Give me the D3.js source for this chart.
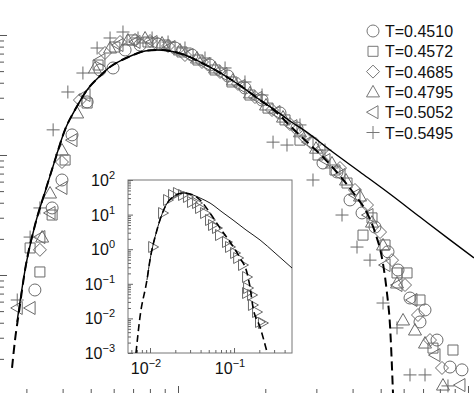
<!DOCTYPE html>
<html>
<head>
<meta charset="utf-8">
<script src="https://cdn.jsdelivr.net/npm/d3@7"></script>
<style>
  body { margin: 0; background: #fff; }
  svg { display: block; font-family: "Liberation Sans", Arial, Helvetica, sans-serif; }
</style>
</head>
<body>
<svg id="chart" width="474" height="393"></svg>
<script>
// legend labels and marker shapes, one per temperature
var temps = ["T=0.4510", "T=0.4572", "T=0.4685", "T=0.4795", "T=0.5052", "T=0.5495"];
var shapes = ["circle", "square", "diamond", "triUp", "triLeft", "plus"];

// main panel data, [x, P(x)] pairs
var circlePts = [[0.321,0.00750],[0.368,0.0362],[0.398,0.0619],[0.431,0.147],[0.486,0.277],[0.538,0.511],[0.597,0.531],
  [0.657,0.750],[0.740,0.825],[0.853,0.841],[0.977,0.779],[1.117,0.681],[1.289,0.562],[1.487,0.455],[1.702,0.362],
  [1.949,0.287],[2.248,0.224],[2.572,0.168],[2.921,0.126],[3.162,0.0858],[3.534,0.0722],[3.919,0.0422],[4.311,0.0329],
  [4.778,0.0251],[5.300,0.0156],[5.738,0.0110],[6.310,0.00643],[6.832,0.00406],[7.109,0.00511],[7.819,0.00287],
  [8.668,0.00171],[9.535,0.00162]];
var squarePts = [[0.309,0.0168],[0.334,0.0106],[0.368,0.0316],[0.408,0.0908],[0.486,0.271],[0.530,0.562],[0.606,0.794],
  [0.694,0.909],[0.788,0.874],[0.902,0.825],[1.032,0.722],[1.172,0.619],[1.342,0.511],[1.535,0.406],[1.771,0.316],
  [2.044,0.246],[2.339,0.196],[2.634,0.133],[3.040,0.100],[3.478,0.0750],[3.827,0.0584],[4.345,0.0215],[4.667,0.0299],
  [5.176,0.0178],[5.693,0.0104],[6.163,0.0104],[6.832,0.00619],[7.575,0.00246],[8.877,0.00237]];
var diamondPts = [[0.334,0.0162],[0.398,0.0874],[0.459,0.287],[0.560,0.708],[0.631,0.874],[0.711,0.909],[0.801,0.891],
  [0.924,0.810],[1.057,0.681],[1.210,0.596],[1.396,0.492],[1.610,0.391],[1.843,0.304],[2.110,0.237],[2.433,0.181],
  [2.742,0.139],[3.138,0.110],[3.620,0.0779],[4.077,0.0511],[4.485,0.0383],[4.974,0.0228],[5.471,0.0133],
  [6.066,0.00825],[6.724,0.00464],[7.396,0.00287],[8.136,0.00168]];
var triUpPts = [[0.340,0.0207],[0.362,0.0482],[0.398,0.110],[0.449,0.224],[0.517,0.531],[0.583,0.779],[0.672,0.909],
  [0.770,0.944],[0.881,0.858],[1.016,0.750],[1.163,0.643],[1.342,0.531],[1.547,0.422],[1.771,0.329],[2.012,0.261],
  [2.302,0.207],[2.634,0.156],[2.992,0.114],[3.396,0.0858],[3.796,0.0619],[4.243,0.0455],[4.667,0.0276],[5.094,0.0178],
  [5.693,0.00858],[5.971,0.00422],[6.566,0.00348],[7.109,0.00271],[8.200,0.00121]];
var triLeftPts = [[0.279,0.00531],[0.309,0.00531],[0.334,0.0207],[0.362,0.0329],[0.398,0.0531],[0.431,0.133],[0.478,0.316],
  [0.538,0.619],[0.621,0.825],[0.711,0.874],[0.814,0.874],[0.939,0.794],[1.083,0.681],[1.239,0.573],[1.418,0.473],
  [1.636,0.376],[1.872,0.299],[2.160,0.228],[2.472,0.174],[2.808,0.128],[3.213,0.0908],[3.620,0.0681],[4.077,0.0464],
  [4.521,0.0316],[5.176,0.0121],[5.693,0.00825],[6.411,0.00619],[7.696,0.00215],[9.384,0.00121]];
var plusPts = [[0.279,0.00619],[0.309,0.0207],[0.334,0.0362],[0.371,0.162],[0.417,0.335],[0.470,0.482],[0.526,0.779],
  [0.583,0.944],[0.646,1.059],[0.728,0.944],[0.814,0.944],[0.924,0.874],[1.057,0.779],[1.239,0.643],[1.453,0.531],
  [1.702,0.406],[1.949,0.316],[2.127,0.128],[2.376,0.121],[2.634,0.178],[2.921,0.0619],[3.213,0.110],[3.678,0.0316],
  [4.143,0.0171],[4.593,0.0133],[5.094,0.00584],[5.693,0.00362],[6.310,0.00147],[7.109,0.00147],[8.532,0.00119]];
var seriesPts = [circlePts, squarePts, diamondPts, triUpPts, triLeftPts, plusPts];

// main panel curves
var mainSolid = [[0.2785,0.00406],[0.2968,0.0110],[0.3213,0.0261],[0.3478,0.0492],[0.3766,0.0909],[0.4076,0.162],
  [0.4448,0.246],[0.4856,0.348],[0.5383,0.456],[0.5826,0.541],[0.6409,0.619],[0.6996,0.681],[0.7696,0.736],[0.8465,0.750],
  [0.9385,0.736],[1.057,0.681],[1.191,0.596],[1.342,0.511],[1.512,0.430],[1.702,0.355],[1.918,0.287],[2.160,0.237],
  [2.433,0.192],[2.742,0.159],[3.343,0.110],[4.243,0.0722],[5.383,0.0473],[6.832,0.0304],[8.668,0.0196],[10.49,0.0139]];
var mainDashed = [[0.2677,0.00168],[0.2741,0.00287],[0.2829,0.00492],[0.2968,0.0110],[0.3213,0.0261],[0.3478,0.0492],
  [0.3766,0.0909],[0.4076,0.162],[0.4448,0.246],[0.4856,0.348],[0.5383,0.456],[0.5826,0.541],[0.6409,0.619],[0.6996,0.681],
  [0.7696,0.736],[0.8465,0.750],[0.9385,0.736],[1.057,0.681],[1.191,0.596],[1.342,0.511],[1.512,0.430],[1.702,0.355],
  [1.918,0.287],[2.160,0.233],[2.433,0.175],[2.742,0.133],[3.162,0.0962],[3.620,0.0668],[4.077,0.0464],[4.485,0.0329],
  [4.817,0.0215],[5.051,0.0139],[5.256,0.00708],[5.383,0.00383],[5.513,0.00104]];

// inset data
var insetPts = [[0.0109,1.16],[0.0143,11.1],[0.0164,26.4],[0.0188,36.9],[0.0215,42.1],[0.0247,36.9],[0.0283,32.3],
  [0.0316,23.1],[0.0363,21.6],[0.0394,15.5],[0.0452,11.1],[0.0518,6.98],[0.0562,5.00],[0.0627,4.10],[0.0681,2.57],
  [0.0825,1.61],[0.0896,1.16],[0.103,0.777],[0.112,0.557],[0.128,0.350],[0.143,0.157],[0.147,0.0756],[0.143,0.0542],
  [0.164,0.0475],[0.168,0.0244],[0.188,0.0153],[0.204,0.00787],[0.221,0.00736]];
var insetDashed = [[0.00681,0.001],[0.0076,0.011],[0.0092,0.129],[0.0100,0.488],[0.0121,3.59],[0.0151,16.6],[0.0188,32.3],
  [0.0247,42.1],[0.0325,36.9],[0.0394,26.4],[0.0518,11.1],[0.0681,4.10],[0.0896,1.61],[0.118,0.557],[0.143,0.205],
  [0.155,0.0808],[0.168,0.0214],[0.204,0.00564],[0.247,0.00107]];
var insetSolid = [[0.0092,0.129],[0.0100,0.488],[0.0121,3.59],[0.0151,16.6],[0.0188,32.3],[0.0247,42.1],[0.0325,36.9],
  [0.0394,30.2],[0.0518,21.6],[0.0720,11.9],[0.0973,6.98],[0.139,3.59],[0.204,1.85],[0.308,0.777],[0.490,0.286]];
var insetYLabels = [["2", 100], ["1", 10], ["0", 1], ["\u22121", 0.1], ["\u22122", 0.01], ["\u22123", 0.001]];
var insetXLabels = [["\u22122", 0.01], ["\u22121", 0.1]];

var width = 474, height = 393;
var svg = d3.select("#chart");

var x = d3.scaleLog().domain([0.2433, 10.49]).range([0, width]);
var y = d3.scaleLog().domain([0.001039, 1.957]).range([height, 0]);

function isMajor(v) {
  var l = Math.log10(v);
  return Math.abs(l - Math.round(l)) < 1e-6;
}

var symbolPaths = {
  circle: "M6,0A6,6 0 1,1 -6,0A6,6 0 1,1 6,0Z",
  square: "M-5,-5H5V5H-5Z",
  diamond: "M0,-6.5L6.5,0L0,6.5L-6.5,0Z",
  triUp: "M0,-6.5L6.5,5L-6.5,5Z",
  triLeft: "M-6.5,0L5,-6.5L5,6.5Z",
  plus: "M-6.5,0H6.5M0,-6.5V6.5",
  triRight: "M5.5,0L-4.5,-5.5L-4.5,5.5Z"
};
var markColor = "#6a6a6a";

// main axes: ticks only, inside the frame
var yAxisG = svg.append("g")
  .call(d3.axisRight(y).tickValues(y.ticks()).tickSize(4).tickFormat(""));
yAxisG.select(".domain").remove();
yAxisG.selectAll(".tick line").attr("x2", d => isMajor(d) ? 7 : 4).attr("stroke", "#555");

var xAxisG = svg.append("g")
  .attr("transform", `translate(0, ${height})`)
  .call(d3.axisTop(x).tickValues(x.ticks()).tickSize(4).tickFormat(""));
xAxisG.select(".domain").remove();
xAxisG.selectAll(".tick line").attr("y2", d => isMajor(d) ? -7 : -4).attr("stroke", "#555");

// markers
seriesPts.forEach(function(pts, i) {
  svg.append("g").selectAll("path")
    .data(pts)
    .enter()
    .append("path")
    .attr("d", symbolPaths[shapes[i]])
    .attr("transform", d => `translate(${x(d[0])}, ${y(d[1])})`)
    .attr("fill", "none")
    .attr("stroke", markColor)
    .attr("stroke-width", 1);
});

// curves
var mainLine = d3.line().x(d => x(d[0])).y(d => y(d[1])).curve(d3.curveMonotoneX);
svg.append("path").attr("d", mainLine(mainSolid))
  .attr("fill", "none").attr("stroke", "#000").attr("stroke-width", 1.4);
svg.append("path").attr("d", mainLine(mainDashed))
  .attr("fill", "none").attr("stroke", "#000").attr("stroke-width", 2)
  .attr("stroke-dasharray", "9,5");

// legend
var legend = svg.append("g");
temps.forEach(function(t, i) {
  var cy = 31 + i * 20.3;
  legend.append("path").attr("d", symbolPaths[shapes[i]])
    .attr("transform", `translate(373, ${cy})`)
    .attr("fill", "none").attr("stroke", "#777").attr("stroke-width", 1);
  legend.append("text").attr("x", 385).attr("y", cy + 6)
    .attr("font-size", 16).attr("fill", "#111").text(t);
});

// inset
var ix = d3.scaleLog().domain([0.00547, 0.490]).range([128, 292]);
var iy = d3.scaleLog().domain([0.001, 100]).range([353, 180]);

svg.append("rect").attr("x", 128).attr("y", 180).attr("width", 164).attr("height", 173)
  .attr("fill", "#fff").attr("stroke", "#777").attr("stroke-width", 1);

svg.append("clipPath").attr("id", "insetClip")
  .append("rect").attr("x", 128).attr("y", 180).attr("width", 164).attr("height", 173);

var iyAxisG = svg.append("g").attr("transform", "translate(128, 0)")
  .call(d3.axisRight(iy).tickValues(iy.ticks()).tickSize(3).tickFormat(""));
iyAxisG.select(".domain").remove();
iyAxisG.selectAll(".tick line").attr("x2", d => isMajor(d) ? 5 : 3).attr("stroke", "#666");

var ixAxisG = svg.append("g").attr("transform", "translate(0, 353)")
  .call(d3.axisTop(ix).tickValues(ix.ticks()).tickSize(3).tickFormat(""));
ixAxisG.select(".domain").remove();
ixAxisG.selectAll(".tick line").attr("y2", d => isMajor(d) ? -5 : -3).attr("stroke", "#666");

var insetG = svg.append("g").attr("clip-path", "url(#insetClip)");
insetG.selectAll("path.pt")
  .data(insetPts)
  .enter()
  .append("path")
  .attr("class", "pt")
  .attr("d", symbolPaths.triRight)
  .attr("transform", d => `translate(${ix(d[0])}, ${iy(d[1])})`)
  .attr("fill", "none")
  .attr("stroke", markColor)
  .attr("stroke-width", 1);

var insetLine = d3.line().x(d => ix(d[0])).y(d => iy(d[1])).curve(d3.curveMonotoneX);
insetG.append("path").attr("d", insetLine(insetSolid))
  .attr("fill", "none").attr("stroke", "#000").attr("stroke-width", 0.9);
insetG.append("path").attr("d", insetLine(insetDashed))
  .attr("fill", "none").attr("stroke", "#000").attr("stroke-width", 1.6)
  .attr("stroke-dasharray", "7,4");

// inset tick labels: 10 with superscript exponent
insetYLabels.forEach(function(l) {
  var t = svg.append("text").attr("x", 115).attr("y", iy(l[1]) + 6)
    .attr("text-anchor", "end").attr("fill", "#111");
  t.append("tspan").attr("font-size", 16).text("10");
  t.append("tspan").attr("font-size", 11).attr("dy", -7).text(l[0]);
});
insetXLabels.forEach(function(l) {
  var t = svg.append("text").attr("x", ix(l[1]) - 4).attr("y", 374)
    .attr("text-anchor", "middle").attr("fill", "#111");
  t.append("tspan").attr("font-size", 16).text("10");
  t.append("tspan").attr("font-size", 11).attr("dy", -7).text(l[0]);
});
</script>
</body>
</html>
